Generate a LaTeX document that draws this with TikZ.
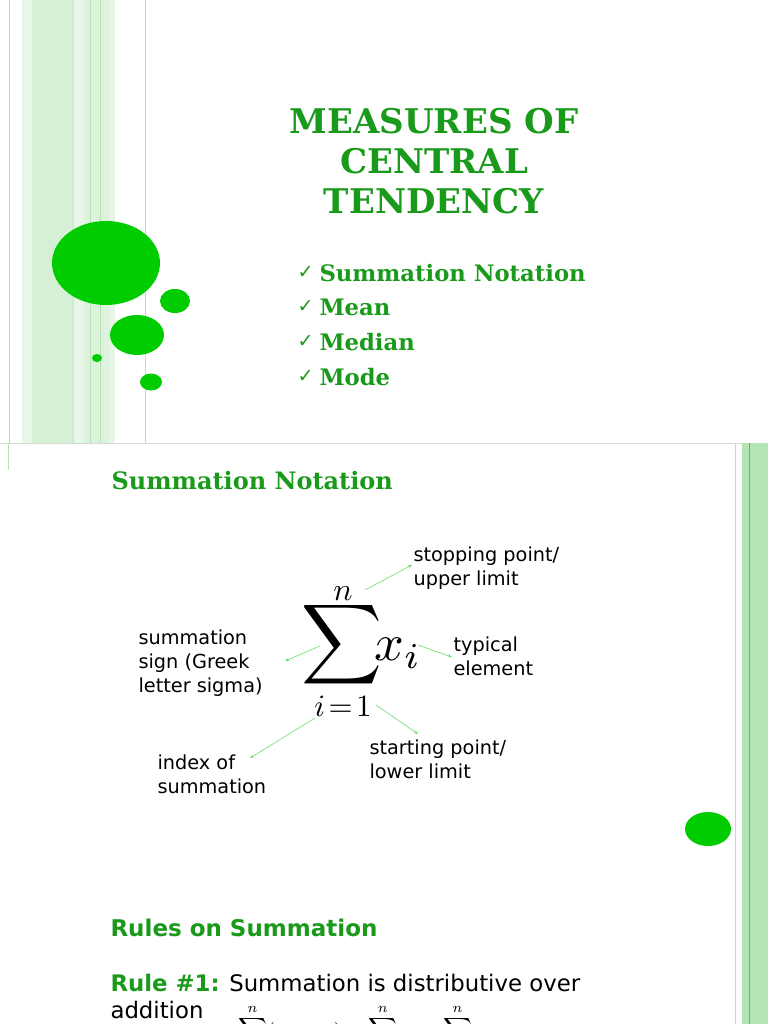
\documentclass[tikz,border=0pt]{standalone}
\usetikzlibrary{arrows.meta}
\usepackage{graphicx}
\usepackage{fontspec}
\setmainfont{DejaVu Sans}
\newfontfamily\serifb{DejaVu Serif}
\newfontfamily\dvs{DejaVu Sans}
\definecolor{gtitle}{HTML}{1A9A1A}
\definecolor{bub}{HTML}{00CC00}
\definecolor{stripe}{HTML}{D6F0D6}
\definecolor{stripe2}{HTML}{B4E4B4}
\definecolor{arr}{HTML}{66DD66}
\begin{document}
\begin{tikzpicture}[x=1pt,y=-1pt,
  ttl/.style={font=\serifb\bfseries\fontsize{34}{40}\selectfont,text=gtitle,align=center},
  blt/.style={font=\serifb\bfseries\fontsize{22.7}{25}\selectfont,text=gtitle,anchor=west},
  lbl/.style={font=\dvs\fontsize{19.3}{24}\selectfont,align=left,anchor=west},
  pt/.style={draw=arr,line width=0.6pt,-{Stealth[length=4pt,width=3pt]}},
  bubble/.style={fill=bub}]
\clip (0,0) rectangle (768,1024);
\useasboundingbox (0,0) rectangle (768,1024);
\fill[white] (0,0) rectangle (768,1024);
% top slide stripes
\fill[stripe!60] (22,0) rectangle (115,443);
\fill[stripe] (32,0) rectangle (72,443);
\fill[stripe2!70] (72,0) rectangle (74,443);
\fill[stripe!80] (84,0) rectangle (110,443);
\draw[stripe2,line width=0.6pt] (90,0) -- (90,443);
\draw[stripe2,line width=0.6pt] (100,0) -- (100,443);
\draw[stripe2,line width=0.8pt] (9,0) -- (9,443);
\draw[stripe2,line width=0.6pt] (145,0) -- (145,443);
% bottom slide separators
\draw[gray!30] (0,443) -- (768,443);
\draw[stripe2,line width=0.8pt] (8,443) -- (8,470);
% bottom right stripes
\draw[stripe2,line width=0.8pt] (735,443) -- (735,1024);
\fill[stripe2] (742,443) rectangle (768,1024);
\draw[bub!80,line width=1pt] (749,443) -- (749,1024);
% bubbles
\fill[bubble] (106,263) ellipse [x radius=54,y radius=42];
\fill[bubble] (175,301) ellipse [x radius=15,y radius=12];
\fill[bubble] (137,335) ellipse [x radius=27,y radius=20];
\fill[bubble] (97,358) ellipse [x radius=5,y radius=4];
\fill[bubble] (151,382) ellipse [x radius=11,y radius=8.5];
\fill[bubble] (708,829) ellipse [x radius=23,y radius=17];
% title
\node[ttl] (title) at (434,161) {MEASURES OF\\CENTRAL\\TENDENCY};
\node[blt] (b1) at (316,273) {Summation Notation};
\node[blt] (b2) at (316,307) {Mean};
\node[blt] (b3) at (316,342) {Median};
\node[blt] (b4) at (316,377) {Mode};
\foreach \y/\n in {273/c1,307/c2,342/c3,377/c4}
  \node[font=\dvs\fontsize{19}{19}\selectfont,text=gtitle,anchor=west] (\n) at (294,\y) {✓};
% summation notation
\node[blt,font=\serifb\bfseries\fontsize{24}{25}\selectfont] (sh) at (108,481) {Summation Notation};
\node (sig) at (342,645) {\scalebox{5.6}{$\displaystyle\sum$}};
\node (nn) at (343,594) {\scalebox{3.2}{$n$}};
\node (i1) at (343,706) {\scalebox{3.1}{$i\!=\!1$}};
\node (xi) at (398,653) {\scalebox{5.2}{$x_i$}};
\node[lbl] (stop) at (410,568) {stopping point/\\upper limit};
\node[lbl] (ssig) at (135,663) {summation\\sign (Greek\\letter sigma)};
\node[lbl] (typ) at (450,656) {typical\\element};
\node[lbl] (start) at (366,759) {starting point/\\lower limit};
\node[lbl] (idx) at (154,774) {index of\\summation};
\coordinate (a1) at (365,590); \coordinate (a2) at (320,646);
\coordinate (a3) at (418,645); \coordinate (a4) at (376,705);
\coordinate (a5) at (315,718);
\draw[pt] (a1) -- (412,565);
\draw[pt] (a2) -- (285,661);
\draw[pt] (a3) -- (452,657);
\draw[pt] (a4) -- (418,734);
\draw[pt] (a5) -- (250,758);
% rules
\node[font=\dvs\bfseries\fontsize{23}{24}\selectfont,text=gtitle,anchor=west] (rh) at (107,928) {Rules on Summation};
\node[font=\dvs\fontsize{22.8}{24}\selectfont,anchor=west] (r1) at (107,983) {\textcolor{gtitle}{\bfseries Rule \#1:} Summation is distributive over};
\node[font=\dvs\fontsize{22.8}{24}\selectfont,anchor=west] (r2) at (107,1010) {addition};
\node[anchor=north west,inner sep=0] (f) at (238,1004) {\scalebox{2.0}{$\displaystyle\sum^{n}_{i=1}(x_i+y_i)=\sum^{n}_{i=1}x_i+\sum^{n}_{i=1}y_i$}};
\end{tikzpicture}
\end{document}
